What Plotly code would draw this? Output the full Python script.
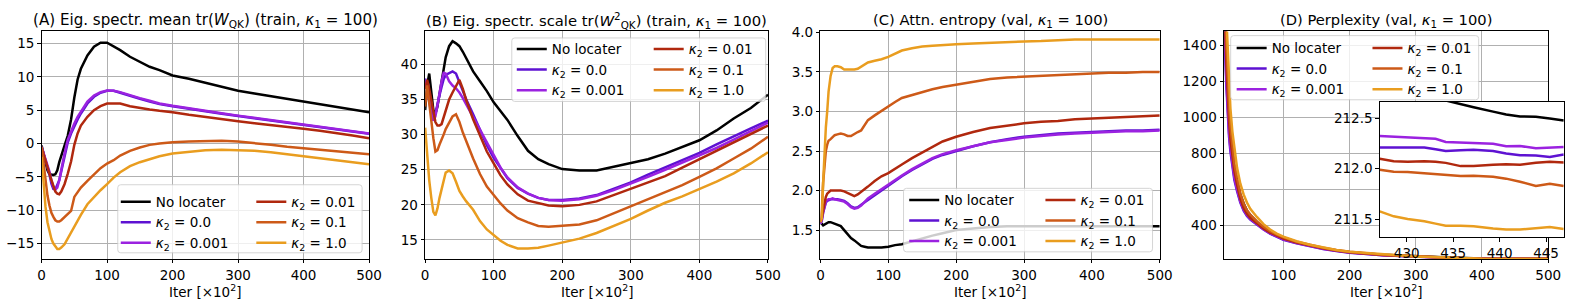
import plotly.graph_objects as go

W, H = 1581, 299

# ---------------- data ----------------
LABELS = ["No locater",
          "<i>κ</i><sub>2</sub> = 0.0",
          "<i>κ</i><sub>2</sub> = 0.001",
          "<i>κ</i><sub>2</sub> = 0.01",
          "<i>κ</i><sub>2</sub> = 0.1",
          "<i>κ</i><sub>2</sub> = 1.0"]
COLORS = ["#000000", "#5e12d2", "#9b22e0", "#b0280e", "#cd5a18", "#e99d1f"]

# Panel A: eig. spectrum mean
iter_A = [0, 3, 6, 9, 12, 15, 18, 21, 24, 27, 30, 35, 40, 45, 50, 55, 60, 70, 80, 90, 100,
          110, 120, 135, 150, 165, 180, 200, 225, 250, 275, 300, 325, 350, 375, 400, 425, 450, 475, 500]
A_none = [-0.3, -1.5, -3.0, -4.0, -4.6, -4.7, -4.7, -4.6, -4.0, -2.8, -1.7, -0.3, 1.2, 3.6, 6.9, 9.6, 11.2,
          13.2, 14.5, 15.1, 15.1, 14.6, 14.0, 13.0, 12.2, 11.5, 11.0, 10.2, 9.7, 9.1, 8.5, 7.9, 7.5, 7.1,
          6.7, 6.3, 5.9, 5.5, 5.2, 4.7]
A_k0 = [-0.5, -1.5, -2.8, -3.5, -4.6, -6.0, -6.8, -6.9, -6.3, -5.5, -4.2, -2.0, 0.2, 1.5, 2.6, 3.6, 4.5,
        6.0, 7.0, 7.6, 7.9, 7.9, 7.6, 7.1, 6.7, 6.3, 5.9, 5.6, 5.2, 4.8, 4.47, 4.13, 3.8, 3.46, 3.13,
        2.8, 2.46, 2.12, 1.79, 1.45]
A_k0001 = [-0.5, -1.4, -2.6, -3.3, -4.2, -5.5, -6.5, -6.9, -6.6, -5.5, -3.8, -1.5, 0.6, 1.9, 3.0, 4.0, 4.8,
           6.3, 7.2, 7.7, 7.95, 7.9, 7.7, 7.2, 6.8, 6.4, 6.0, 5.65, 5.25, 4.85, 4.52, 4.18, 3.85, 3.5,
           3.17, 2.85, 2.5, 2.17, 1.83, 1.5]
A_k001 = [-0.6, -1.5, -2.5, -3.5, -4.5, -5.5, -6.5, -7.2, -7.5, -7.6, -7.2, -6.1, -4.5, -2.7, -0.2, 1.5,
          2.7, 4.0, 5.0, 5.6, 6.0, 6.0, 6.0, 5.6, 5.3, 5.1, 4.9, 4.7, 4.3, 3.95, 3.65, 3.35, 3.05, 2.8,
          2.5, 2.2, 1.9, 1.6, 1.2, 0.8]
A_k01 = [-0.5, -3.0, -5.8, -7.8, -9.3, -10.4, -11.0, -11.5, -11.7, -11.7, -11.5, -11.0, -10.6, -10.1,
         -8.0, -7.2, -6.6, -5.6, -4.6, -3.7, -3.0, -2.5, -1.8, -1.1, -0.6, -0.2, 0.0, 0.2, 0.3, 0.35,
         0.4, 0.3, 0.1, -0.2, -0.5, -0.7, -0.9, -1.1, -1.4, -1.6]
A_k1 = [-2.0, -6.0, -9.5, -11.8, -13.3, -14.3, -15.0, -15.5, -15.8, -15.8, -15.6, -15.1, -14.2, -13.3,
        -12.4, -11.6, -10.7, -9.1, -8.0, -7.0, -6.1, -5.1, -4.3, -3.4, -2.8, -2.3, -1.9, -1.5, -1.2,
        -1.0, -0.95, -1.0, -1.1, -1.3, -1.6, -1.9, -2.2, -2.5, -2.8, -3.1]

# Panel B: eig. spectrum scale
iter_B = [0, 3, 6, 9, 12, 15, 18, 21, 24, 27, 30, 35, 40, 45, 50, 55, 60, 70, 80, 90, 100,
          110, 120, 135, 150, 165, 180, 200, 225, 250, 275, 300, 325, 350, 375, 400, 425, 450, 475, 500]
B_none = [33.5, 37.0, 38.7, 36.0, 33.5, 33.0, 34.0, 35.8, 37.5, 39.5, 41.0, 42.6, 43.3, 43.0, 42.6, 41.8,
          40.8, 39.0, 37.6, 36.2, 34.6, 33.3, 32.1, 29.8, 27.7, 26.5, 25.8, 25.1, 24.9, 24.9, 25.4, 25.9,
          26.5, 27.3, 28.2, 29.2, 30.6, 32.3, 33.8, 35.7]
B_k0 = [38.0, 37.0, 35.9, 34.0, 32.6, 33.0, 34.5, 35.6, 36.8, 37.9, 38.5, 38.8, 39.0, 38.7, 37.4, 36.2,
        35.0, 32.9, 30.6, 28.5, 26.7, 25.2, 23.8, 22.4, 21.6, 21.0, 20.7, 20.7, 20.9, 21.4, 22.3, 23.2,
        24.3, 25.3, 26.3, 27.4, 28.6, 29.8, 30.9, 32.0]
B_k0001 = [37.5, 36.5, 34.8, 33.0, 32.0, 32.6, 34.2, 36.0, 37.6, 38.8, 38.7, 37.6, 37.0, 36.6, 36.0, 35.2,
           34.3, 32.5, 30.5, 28.8, 26.9, 25.3, 23.9, 22.5, 21.6, 21.0, 20.7, 20.6, 20.8, 21.3, 22.1, 23.0,
           24.0, 25.0, 26.0, 27.0, 28.1, 29.3, 30.5, 31.7]
B_k001 = [36.5, 37.8, 36.5, 34.8, 33.0, 31.8, 31.3, 31.3, 31.5, 32.5, 33.5, 35.0, 36.0, 37.0, 37.8, 36.5,
          34.9, 32.2, 30.0, 27.6, 25.9, 24.2, 22.9, 21.5, 20.6, 20.2, 19.9, 19.8, 20.0, 20.5, 21.4, 22.3,
          23.2, 24.1, 25.3, 26.5, 27.8, 29.0, 30.1, 31.3]
B_k01 = [34.0, 37.0, 34.5, 31.8, 29.5, 27.6, 27.8, 28.6, 29.2, 30.0, 30.8, 31.8, 32.6, 32.9, 31.8, 30.3,
         29.0, 26.6, 24.4, 22.6, 21.4, 20.2, 19.2, 18.1, 17.5, 17.0, 16.9, 17.0, 17.2, 17.8, 18.8, 19.8,
         20.8, 21.8, 22.8, 24.0, 25.2, 26.6, 28.0, 29.7]
B_k1 = [31.0, 26.5, 23.5, 21.0, 19.0, 18.5, 19.5, 21.0, 22.2, 23.6, 24.6, 24.9, 24.5, 23.3, 22.0, 21.2,
        20.5, 19.3, 17.7, 16.5, 15.7, 14.9, 14.3, 13.8, 13.8, 13.9, 14.2, 14.6, 15.2, 16.0, 17.0, 18.0,
        19.2, 20.3, 21.2, 22.2, 23.3, 24.5, 25.9, 27.5]

# Panel C: attention entropy
iter_C = [0, 2, 4, 6, 8, 10, 12, 15, 18, 21, 25, 30, 35, 40, 45, 50, 55, 60, 65, 70, 80, 90, 100,
          110, 120, 135, 150, 165, 180, 200, 225, 250, 275, 300, 325, 350, 375, 400, 425, 450, 475, 500]
C_none = [1.58, 1.58, 1.56, 1.57, 1.59, 1.60, 1.60, 1.60, 1.59, 1.58, 1.57, 1.55, 1.50, 1.45, 1.40, 1.37,
          1.33, 1.30, 1.29, 1.28, 1.28, 1.28, 1.29, 1.31, 1.32, 1.36, 1.40, 1.43, 1.46, 1.50, 1.52, 1.54,
          1.55, 1.55, 1.55, 1.55, 1.55, 1.55, 1.55, 1.55, 1.55, 1.55]
C_k0 = [1.58, 1.62, 1.72, 1.80, 1.85, 1.87, 1.88, 1.89, 1.89, 1.89, 1.89, 1.88, 1.87, 1.84, 1.80, 1.78,
        1.79, 1.82, 1.85, 1.89, 1.95, 2.01, 2.06, 2.12, 2.18, 2.26, 2.33, 2.40, 2.45, 2.50, 2.56, 2.61,
        2.65, 2.68, 2.70, 2.72, 2.73, 2.74, 2.75, 2.76, 2.76, 2.77]
C_k0001 = [1.58, 1.63, 1.73, 1.81, 1.86, 1.88, 1.89, 1.89, 1.90, 1.89, 1.88, 1.87, 1.86, 1.83, 1.79, 1.77,
           1.78, 1.81, 1.85, 1.90, 1.96, 2.02, 2.07, 2.13, 2.19, 2.27, 2.34, 2.41, 2.46, 2.51, 2.56, 2.61,
           2.64, 2.67, 2.69, 2.71, 2.72, 2.73, 2.74, 2.75, 2.75, 2.76]
C_k001 = [1.60, 1.65, 1.75, 1.85, 1.92, 1.96, 1.98, 2.00, 2.00, 2.00, 2.00, 2.00, 1.99, 1.97, 1.94, 1.93,
          1.95, 1.98, 2.02, 2.05, 2.12, 2.18, 2.22, 2.27, 2.33, 2.41, 2.48, 2.56, 2.62, 2.68, 2.74, 2.79,
          2.82, 2.85, 2.87, 2.88, 2.90, 2.91, 2.92, 2.93, 2.94, 2.95]
C_k01 = [1.60, 1.75, 2.10, 2.35, 2.50, 2.58, 2.63, 2.65, 2.68, 2.70, 2.71, 2.72, 2.71, 2.69, 2.69, 2.72,
         2.74, 2.76, 2.82, 2.89, 2.95, 3.01, 3.07, 3.12, 3.17, 3.21, 3.25, 3.28, 3.31, 3.34, 3.38, 3.41,
         3.43, 3.44, 3.45, 3.46, 3.47, 3.48, 3.49, 3.49, 3.50, 3.50]
C_k1 = [1.60, 1.65, 2.10, 2.50, 2.80, 3.00, 3.25, 3.45, 3.55, 3.57, 3.57, 3.56, 3.53, 3.53, 3.53, 3.53,
        3.54, 3.57, 3.60, 3.62, 3.64, 3.66, 3.69, 3.73, 3.77, 3.80, 3.82, 3.83, 3.84, 3.85, 3.86, 3.87,
        3.88, 3.885, 3.89, 3.90, 3.91, 3.91, 3.91, 3.91, 3.91, 3.91]

# Panel D: perplexity
iter_D = [5, 10, 12, 14, 16, 18, 20, 23, 26, 30, 35, 40, 45, 50, 60, 70, 80, 90, 100,
          120, 140, 160, 180, 200, 250, 300, 350, 400, 450, 500]
D_none = [3000, 1800, 1500, 1280, 1100, 970, 880, 790, 720, 650, 570, 520, 480, 455, 415, 380, 355, 338,
          322, 302, 285, 270, 258, 249, 234, 225, 219.5, 213.6, 212.45, 212.0]
D_k0 = [2900, 1650, 1380, 1170, 1010, 890, 810, 720, 650, 590, 525, 480, 450, 430, 400, 375, 352, 333,
        318, 298, 281, 266, 255, 246, 231, 222, 216.5, 212.9, 212.1, 211.8]
D_k0001 = [2950, 1680, 1410, 1200, 1040, 910, 830, 735, 665, 600, 532, 487, 455, 434, 403, 377, 354, 335,
           320, 300, 283, 268, 256, 247, 232, 223, 217, 213.0, 212.2, 211.9]
D_k001 = [3100, 1800, 1520, 1290, 1110, 980, 880, 780, 700, 625, 545, 495, 462, 440, 408, 381, 358, 340,
          325, 303, 286, 270, 258, 249, 233, 223.5, 217.5, 212.8, 212.05, 211.8]
D_k01 = [3200, 1900, 1620, 1400, 1210, 1060, 950, 830, 740, 660, 575, 520, 482, 458, 420, 390, 366, 347,
         331, 307, 289, 273, 261, 251, 235, 224.5, 218, 212.6, 211.82, 211.6]
D_k1 = [3400, 2100, 1800, 1550, 1350, 1180, 1050, 920, 820, 720, 630, 570, 525, 490, 445, 405, 375, 352,
        335, 310, 290, 274, 261, 251, 236, 225, 218.5, 212.3, 211.4, 211.2]

# Inset of panel D (zoom on late iterations)
iter_in = [427.1, 428.6, 430.1, 431.9, 433.1, 434.2, 435.8, 437.2, 439.3, 440.7, 442.2, 443.9, 445.4, 446.9]
in_none = [212.83, 212.80, 212.77, 212.73, 212.70, 212.675, 212.635, 212.608, 212.565, 212.536, 212.516,
           212.515, 212.497, 212.477]
in_k0 = [212.209, 212.209, 212.202, 212.209, 212.193, 212.176, 212.183, 212.189, 212.176, 212.150,
         212.134, 212.130, 212.117, 212.140]
in_k0001 = [212.323, 212.318, 212.314, 212.304, 212.297, 212.265, 212.261, 212.258, 212.248, 212.222,
            212.225, 212.202, 212.209, 212.216]
in_k001 = [212.098, 212.075, 212.068, 212.075, 212.068, 212.058, 212.026, 212.026, 212.039, 212.045,
           212.039, 212.059, 212.068, 212.062]
in_k01 = [211.990, 211.970, 211.967, 211.954, 211.951, 211.941, 211.928, 211.931, 211.921, 211.902,
          211.872, 211.830, 211.852, 211.830]
in_k1 = [211.578, 211.529, 211.503, 211.480, 211.457, 211.437, 211.437, 211.431, 211.408, 211.398,
         211.398, 211.414, 211.424, 211.404]

TITLES = ["(A) Eig. spectr. mean tr(<i>W</i><sub>QK</sub>) (train, <i>κ</i><sub>1</sub> = 100)",
          "(B) Eig. spectr. scale tr(<i>W</i><sup>2</sup><sub>QK</sub>) (train, <i>κ</i><sub>1</sub> = 100)",
          "(C) Attn. entropy (val, <i>κ</i><sub>1</sub> = 100)",
          "(D) Perplexity (val, <i>κ</i><sub>1</sub> = 100)"]
TITLE_SIZES = [15.1, 14.8, 14.7, 14.7]
XLABEL = "Iter [×10<sup>2</sup>]"

# ---------------- layout helpers (pixel geometry) ----------------
FONT = "DejaVu Sans"
def fx(p): return p / W
def fy(p): return 1 - p / H

PLOT_TOP, PLOT_BOT = 25, 258
DOMS = [(38, 369), (425.7, 772.3), (825.3, 1168.3), (1233.3, 1561)]
YRANGES = [[-17.3, 16.8], [12.3, 44.7], [1.135, 4.012], [211, 1478]]
XRANGES = [[0, 500], [0, 500], [0, 500], [10.4, 500]]
YDT = [5, 5, 0.5, 200]
YFMT = [None, None, ".1f", None]
# legend geometry: (handle col1 x, handle col2 x, first row y, box x0, y0, x1, y1)
LEG = [(118, 255, 199, 115, 182, 362, 251.7),
       (518.3, 656.7, 42.7, 513.3, 31.7, 770, 96.7),
       (915, 1052.7, 197.3, 909.3, 185.7, 1161, 250.7),
       (1246, 1383.3, 41.7, 1240, 29.3, 1490.7, 95)]

panels = [
    (iter_A, [A_none, A_k0, A_k0001, A_k001, A_k01, A_k1]),
    (iter_B, [B_none, B_k0, B_k0001, B_k001, B_k01, B_k1]),
    (iter_C, [C_none, C_k0, C_k0001, C_k001, C_k01, C_k1]),
    (iter_D, [D_none, D_k0, D_k0001, D_k001, D_k01, D_k1]),
]
inset = (iter_in, [in_none, in_k0, in_k0001, in_k001, in_k01, in_k1])

fig = go.Figure()

def lkey(n):
    return "legend" if n == 1 else f"legend{n}"

for p, (xs, series) in enumerate(panels):
    ax = "" if p == 0 else str(p + 1)
    for i, ys in enumerate(series):
        col = 0 if i < 3 else 1
        fig.add_trace(go.Scatter(
            x=xs, y=ys, mode="lines", name=LABELS[i],
            line=dict(color=COLORS[i], width=2.5),
            xaxis="x" + ax, yaxis="y" + ax,
            legend=lkey(2 * p + col + 1), showlegend=True))

for i, ys in enumerate(inset[1]):
    fig.add_trace(go.Scatter(
        x=inset[0], y=ys, mode="lines", name=LABELS[i],
        line=dict(color=COLORS[i], width=2.5),
        xaxis="x5", yaxis="y5", showlegend=False))

common = dict(showline=True, mirror=True, linecolor="black", linewidth=1,
              ticks="outside", ticklen=3.5, tickwidth=0.8, tickcolor="black",
              showgrid=True, gridcolor="#b0b0b0", gridwidth=0.8, zeroline=False,
              tickfont=dict(family=FONT, size=13.5, color="black"))

layout = dict(
    width=W, height=H, autosize=False,
    margin=dict(l=0, r=0, t=0, b=0),
    paper_bgcolor="white", plot_bgcolor="white",
    font=dict(family=FONT, size=13.5, color="black"),
)

annotations = []
shapes = []
for p in range(4):
    ax = "" if p == 0 else str(p + 1)
    d0, d1 = DOMS[p]
    layout["xaxis" + ax] = dict(common, domain=[fx(d0), fx(d1)], range=XRANGES[p],
                                dtick=100, tick0=0, anchor="y" + ax)
    ya = dict(common, domain=[fy(PLOT_BOT), fy(PLOT_TOP)], range=YRANGES[p],
              dtick=YDT[p], tick0=0, anchor="x" + ax)
    if YFMT[p]:
        ya["tickformat"] = YFMT[p]
    layout["yaxis" + ax] = ya
    cx = (d0 + d1) / 2
    annotations.append(dict(text=TITLES[p], x=fx(cx), y=fy(14), xref="paper", yref="paper",
                            xanchor="center", yanchor="middle", showarrow=False,
                            font=dict(family=FONT, size=TITLE_SIZES[p], color="black")))
    annotations.append(dict(text=XLABEL, x=fx(cx), y=fy(290.5), xref="paper", yref="paper",
                            xanchor="center", yanchor="middle", showarrow=False,
                            font=dict(family=FONT, size=13.5, color="black")))
    h1, h2, ry, bx0, by0, bx1, by1 = LEG[p]
    for col, hx in enumerate((h1, h2)):
        layout[lkey(2 * p + col + 1)] = dict(
            x=fx(hx - 5), y=fy(ry - 15.3), xanchor="left", yanchor="top",
            xref="paper", yref="paper",
            bgcolor="rgba(0,0,0,0)", borderwidth=0, itemwidth=30, tracegroupgap=0,
            font=dict(family=FONT, size=13.5, color="black"))
    r = 3
    path = (f"M{fx(bx0 + r)},{fy(by0)} L{fx(bx1 - r)},{fy(by0)} Q{fx(bx1)},{fy(by0)} {fx(bx1)},{fy(by0 + r)} "
            f"L{fx(bx1)},{fy(by1 - r)} Q{fx(bx1)},{fy(by1)} {fx(bx1 - r)},{fy(by1)} "
            f"L{fx(bx0 + r)},{fy(by1)} Q{fx(bx0)},{fy(by1)} {fx(bx0)},{fy(by1 - r)} "
            f"L{fx(bx0)},{fy(by0 + r)} Q{fx(bx0)},{fy(by0)} {fx(bx0 + r)},{fy(by0)} Z")
    shapes.append(dict(type="path", path=path, xref="paper", yref="paper", layer="above",
                       fillcolor="white", line=dict(color="#cccccc", width=1), opacity=0.8))

# inset axes
layout["xaxis5"] = dict(common, showgrid=False, domain=[fx(1390.7), fx(1576.7)],
                        range=[427.1, 446.9], dtick=5, tick0=0, anchor="y5")
layout["yaxis5"] = dict(common, showgrid=False, domain=[fy(236), fy(97.3)],
                        range=[211.32, 212.66], dtick=0.5, tick0=0, tickformat=".1f", anchor="x5")

layout["annotations"] = annotations
layout["shapes"] = shapes
fig.update_layout(**layout)

fig.write_html("out.html", config={"displayModeBar": False},
               post_script="document.body.style.margin='0';document.body.style.overflow='hidden';")
